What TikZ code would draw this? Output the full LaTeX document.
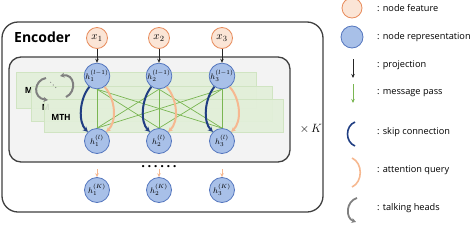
\documentclass[tikz,border=0pt]{standalone}
\usepackage{fontspec}
\setmainfont{Open Sans}
\usetikzlibrary{arrows.meta}
\definecolor{nodeblue}{RGB}{168,192,232}
\definecolor{nodeblueb}{RGB}{84,118,190}
\definecolor{featfill}{RGB}{251,229,214}
\definecolor{featdraw}{RGB}{232,140,92}
\definecolor{skipblue}{RGB}{32,62,130}
\definecolor{attn}{RGB}{246,184,144}
\definecolor{msggreen}{RGB}{122,182,82}
\definecolor{layergreen}{RGB}{226,239,217}
\definecolor{layeredge}{RGB}{208,228,194}
\definecolor{innerfill}{RGB}{243,243,243}
\definecolor{boxdraw}{RGB}{64,64,64}
\definecolor{headgrey}{RGB}{128,128,128}
\begin{document}
\begin{tikzpicture}[x=1pt,y=-1pt,
  feat/.style={circle, fill=featfill, draw=featdraw, line width=0.8pt, minimum size=21pt, inner sep=0pt, font=\fontsize{11}{12}\selectfont},
  rep/.style={circle, fill=nodeblue, draw=nodeblueb, line width=0.8pt, minimum size=25pt, inner sep=0pt, font=\fontsize{8.5}{9}\selectfont},
  proj/.style={draw=black!85, line width=0.6pt, -{Stealth[length=4pt,width=3.5pt]}},
  kproj/.style={draw=attn, line width=0.8pt, -{Stealth[length=4pt,width=3.5pt]}},
  msg/.style={draw=msggreen, line width=0.7pt},
  msgarrow/.style={draw=msggreen, line width=0.7pt, -{Stealth[length=4pt,width=3.5pt]}},
  skipc/.style={draw=skipblue, line width=2pt, -{Stealth[length=5pt,width=5pt]}},
  attq/.style={draw=attn, line width=2pt, -{Stealth[length=4.5pt,width=4.5pt]}},
  heads/.style={draw=headgrey, line width=2pt, -{Stealth[length=4.5pt,width=5pt]}},
  layer/.style={fill=layergreen, draw=layeredge, line width=0.5pt, fill opacity=0.92},
  lab/.style={font=\bfseries\fontsize{8.5}{10}\selectfont, inner sep=0pt},
  legtext/.style={anchor=west, font=\fontsize{9.2}{11}\selectfont, inner sep=0pt}
]
\useasboundingbox (0,0) rectangle (474,228);

% boxes
\draw[boxdraw, fill=white, line width=1.3pt, rounded corners=16pt] (2,22) rectangle (323,212);
\node[font=\bfseries\fontsize{14}{16}\selectfont, anchor=west, inner sep=0pt] (enc) at (14,37) {Encoder};
\draw[boxdraw, fill=innerfill, line width=1.3pt, rounded corners=12pt] (9,57) rectangle (290,162);

% stacked layers
\draw[layer] (16,72) rectangle (256,108);
\node[lab] (m1) at (29,90) {M};
\draw[layer] (31,86) rectangle (272,121);
\node[lab] (m2) at (46,107) {M};
\draw[layer] (44,99) rectangle (283,132);
\node[lab] (m3) at (61,117) {MTH};

% talking heads
\draw[heads] (46,78) .. controls (34,80) and (32,98) .. (48,100);
\draw[heads] (66,97) .. controls (77,92) and (75,73) .. (60,76);
\fill[headgrey] (50.7,82.3) circle (0.6) (53.3,85) circle (0.6) (55.8,87.5) circle (0.6);

% nodes
\foreach \i/\x in {1/97,2/159,3/222} {
  \node[feat] (x\i) at (\x,38) {$x_\i$};
  \node[rep] (a\i) at (\x,76) {$h_\i^{(l-1)}$};
  \node[rep] (b\i) at (\x,141) {$h_\i^{(l)}$};
  \node[rep] (k\i) at (\x,190) {$h_\i^{(K)}$};
  \coordinate (t\i) at (\x,169);
}

% message passing
\foreach \i in {1,2,3} {
  \foreach \j in {1,2,3} {
    \draw[msg] (a\i.south) -- (b\j.north);
  }
}
\foreach \i in {1,2,3} {
  \draw[proj] (x\i) -- (a\i);
  \draw[skipc] (a\i.235) .. controls +(-10,12) and +(-10,-10) .. (b\i.135);
  \draw[attq] (a\i.-55) .. controls +(11,12) and +(11,-10) .. (b\i.45);
  \draw[kproj] (t\i) -- (k\i);
}

\node[font=\fontsize{12}{14}\selectfont] (times) at (311,129) {$\times\, K$};
\node[font=\bfseries\fontsize{13}{14}\selectfont] (dots) at (159,167) {\addfontfeature{LetterSpace=20}......};

% legend
\node[feat, minimum size=20pt] (lf) at (352,8) {};
\node[legtext] (lft) at (377,8) {: node feature};
\node[rep, minimum size=22pt] (lr) at (352,37) {};
\node[legtext] (lrt) at (377,37) {: node representation};
\coordinate (lp1) at (353,59); \coordinate (lp2) at (353,78);
\draw[proj] (lp1) -- (lp2);
\node[legtext] (lpt) at (377,65) {: projection};
\coordinate (lm1) at (353,84); \coordinate (lm2) at (353,103);
\draw[msgarrow] (lm1) -- (lm2);
\node[legtext] (lmt) at (377,93) {: message pass};
\draw[draw=skipblue, line width=1.6pt] (355,122) .. controls (345,126) and (345,142) .. (355,146);
\node[legtext] (lst) at (377,132) {: skip connection};
\draw[draw=attn, line width=1.6pt] (352,158) .. controls (363,163) and (363,182) .. (352,187);
\node[legtext] (lat) at (377,170) {: attention query};
\draw[heads, line width=1.8pt] (357,198) .. controls (346,201) and (345,218) .. (356,222);
\node[legtext] (lht) at (377,208) {: talking heads};
\end{tikzpicture}
\end{document}
